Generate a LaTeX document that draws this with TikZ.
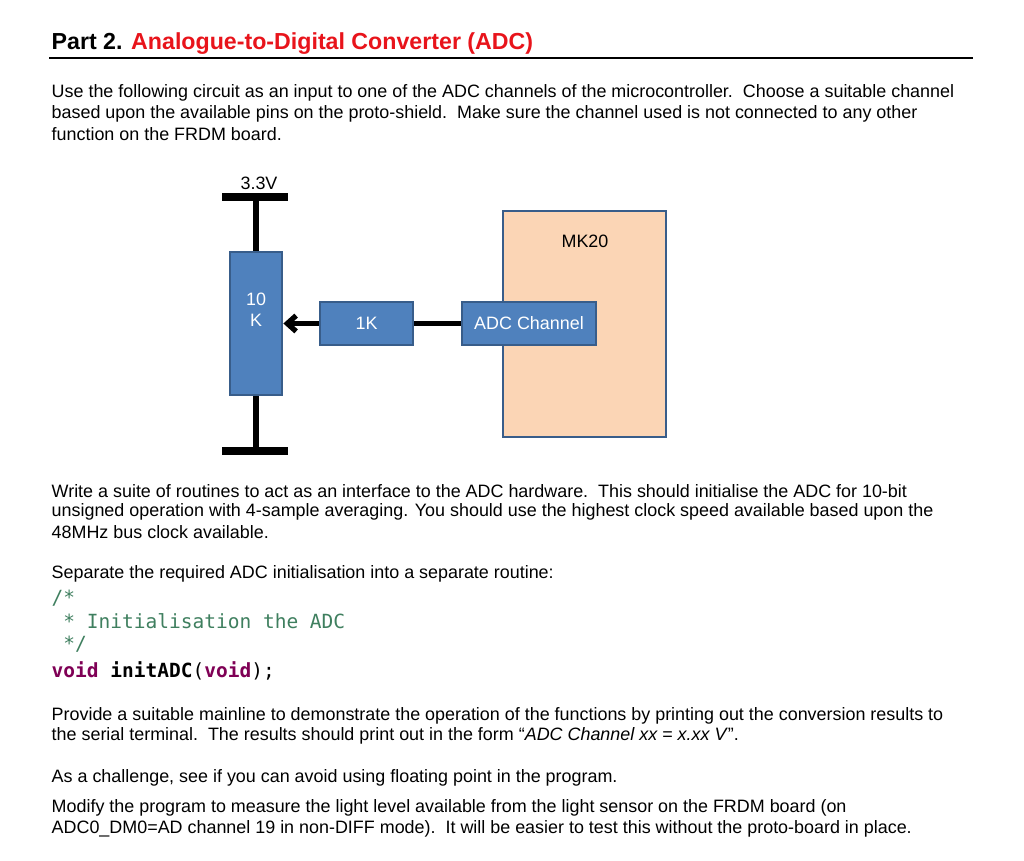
\documentclass[tikz,border=0pt]{standalone}
\usepackage{fontspec}
\setmainfont{Liberation Sans}
\newfontfamily\codefont{DejaVu Sans Mono}
\usepackage{xcolor}
\definecolor{boxblue}{HTML}{4F81BD}
\definecolor{boxedge}{HTML}{385D8A}
\definecolor{chippeach}{HTML}{FBD5B5}
\definecolor{titlered}{HTML}{E8141B}
\definecolor{cmtgreen}{HTML}{3F7F5F}
\definecolor{kwpurple}{HTML}{7F0055}
\usetikzlibrary{positioning,arrows.meta}
\begin{document}
\begin{tikzpicture}[x=0.02cm,y=-0.02cm,>=stealth,thick,
    txt/.style={anchor=west,inner sep=0pt,font=\fontsize{10.2}{12}\selectfont},
    code/.style={anchor=west,inner sep=0pt,font=\codefont\fontsize{11.1}{13}\selectfont},
    blue box/.style={draw=boxedge,line width=1.6pt,fill=boxblue,text=white,font=\fontsize{10.2}{12}\selectfont,inner sep=0pt},
    rail/.style={line width=4pt},
    wire/.style={line width=3pt}]
\useasboundingbox (0,0) rectangle (1024,861);
% heading
\node[anchor=west,inner sep=0pt,font=\bfseries\fontsize{13.2}{15}\selectfont] (head) at (51,44) {Part 2. \textcolor{titlered}{Analogue-to-Digital Converter (ADC)}};
\draw[line width=1.6pt] (49,58) -- (973,58);
% text above the circuit
\node[txt] (p1) at (51,93) {Use the following circuit as an input to one of the ADC channels of the microcontroller.\ \ Choose a suitable channel};
\node[txt] (p2) at (51,114) {based upon the available pins on the proto-shield.\ \ Make sure the channel used is not connected to any other};
\node[txt] (p3) at (51,134) {function on the FRDM board.};
% circuit
\node[font=\fontsize{10.2}{12}\selectfont] (vcc) at (259,183) {3.3V};
\coordinate (topl) at (222,197); \coordinate (topr) at (288,197); \coordinate (top) at (256,197);
\coordinate (botl) at (222,451); \coordinate (botr) at (288,451); \coordinate (bot) at (256,451);
\node[draw=boxedge,line width=1.6pt,fill=chippeach,inner sep=0pt,
      minimum width=3.26cm,minimum height=4.52cm] (mk) at (584.5,324) {};
\node[font=\fontsize{10.2}{12}\selectfont] (mklabel) at (585,241) {MK20};
\node[blue box,minimum width=1.04cm,minimum height=2.86cm,align=center] (res) at (256,323.5) {10\\K\\[4pt]};
\node[blue box,minimum width=1.86cm,minimum height=0.86cm] (r1k) at (366.5,323.5) {1K};
\node[blue box,minimum width=2.68cm,minimum height=0.86cm] (adc) at (529,323.5) {ADC Channel};
\draw[rail] (topl) -- (topr);
\draw[rail] (botl) -- (botr);
\draw[wire] (top) -- (res.north);
\draw[wire] (res.south) -- (bot);
\draw[wire,-{Straight Barb[length=5pt,width=9pt]}] (r1k.west) -- (res.east);
\draw[wire] (r1k.east) -- (adc.west);
% text below the circuit
\node[txt] (p4) at (51,491) {Write a suite of routines to act as an interface to the ADC hardware.\ \ This should initialise the ADC for 10-bit};
\node[txt] (p5) at (51,512) {unsigned operation with 4-sample averaging. You should use the highest clock speed available based upon the};
\node[txt] (p6) at (51,532) {48MHz bus clock available.};
\node[txt] (p7) at (51,574) {Separate the required ADC initialisation into a separate routine:};
\node[code,text=cmtgreen] (c1) at (51,598) {/*};
\node[code,text=cmtgreen] (c2) at (51,621) {\ * Initialisation the ADC};
\node[code,text=cmtgreen] (c3) at (51,644) {\ */};
\node[code] (c4) at (51,671) {\textbf{\textcolor{kwpurple}{void} initADC}(\textbf{\textcolor{kwpurple}{void}});};
\node[txt] (p8) at (51,716) {Provide a suitable mainline to demonstrate the operation of the functions by printing out the conversion results to};
\node[txt] (p9) at (51,736) {the serial terminal.\ \ The results should print out in the form “\textit{ADC Channel xx = x.xx V}”.};
\node[txt] (p10) at (51,778) {As a challenge, see if you can avoid using floating point in the program.};
\node[txt] (p11) at (51,808) {Modify the program to measure the light level available from the light sensor on the FRDM board (on};
\node[txt] (p12) at (51,829) {ADC0\_DM0=AD channel 19 in non-DIFF mode).\ \ It will be easier to test this without the proto-board in place.};
\end{tikzpicture}
\end{document}
